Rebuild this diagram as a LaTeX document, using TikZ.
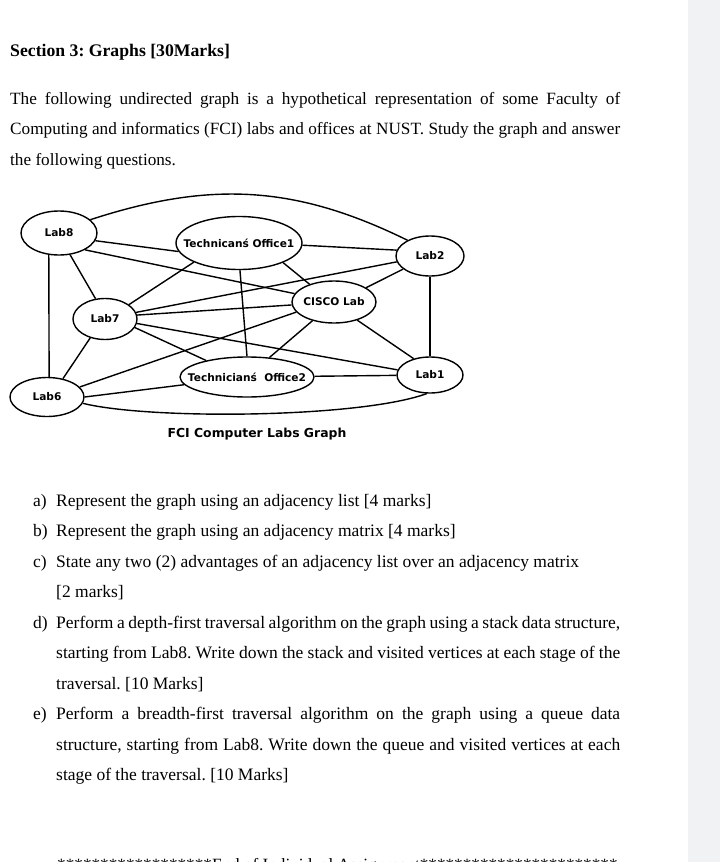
\documentclass[tikz,border=0pt]{standalone}
\usepackage{fontspec}
\setmainfont{Liberation Serif}
\newfontfamily\labfont{DejaVu Sans}
\usepackage{xcolor}
\usetikzlibrary{shapes.geometric,positioning}
\definecolor{panel}{RGB}{241,242,244}
% zero-width label so the ellipse keeps its given size
\newcommand{\rlabel}[1]{\hbox to 0pt{\hss#1\hss}}
% justified text line of a given width
\newcommand{\jline}[2]{\hbox to #1pt{#2}}
\frenchspacing

\begin{document}
\begin{tikzpicture}[x=1pt, y=-1pt,
    room/.style={ellipse, draw=black, line width=1.4pt, inner sep=0pt, font=\labfont\bfseries\fontsize{10.6}{12}\selectfont},
    link/.style={line width=1.4pt},
    txt/.style={anchor=base west, inner sep=0pt, font=\fontsize{17.2}{20}\selectfont},
    item/.style={txt, font=\fontsize{17.5}{20}\selectfont}
]
\useasboundingbox (0,0) rectangle (720,862);
\fill[panel] (688,0) rectangle (720,862);

% heading and introduction
\node[txt, font=\fontsize{17.7}{20}\selectfont\bfseries] (head) at (10,56.5) {Section 3: Graphs [30Marks]};
\node[txt] (intro1) at (10,104) {\jline{610}{The following undirected graph is a hypothetical representation of some Faculty of}};
\node[txt] (intro2) at (10,134.5) {\jline{610}{Computing and informatics (FCI) labs and offices at NUST. Study the graph and answer}};
\node[txt] (intro3) at (10,165) {the following questions.};

% graph vertices
\node[room, minimum width=76, minimum height=44] (lab8) at (59,233) {\rlabel{Lab8}};
\node[room, minimum width=126, minimum height=53] (off1) at (239,243) {\rlabel{Technicanś Office1}};
\node[room, minimum width=68, minimum height=40] (lab2) at (430,256) {\rlabel{Lab2}};
\node[room, minimum width=84, minimum height=42] (cisco) at (334,302) {\rlabel{CISCO Lab}};
\node[room, minimum width=64, minimum height=41] (lab7) at (105,319) {\rlabel{Lab7}};
\node[room, minimum width=134, minimum height=40] (off2) at (247,377) {\rlabel{Technicianś\ \ Office2}};
\node[room, minimum width=66, minimum height=36] (lab1) at (430,375) {\rlabel{Lab1}};
\node[room, minimum width=74, minimum height=39] (lab6) at (47,397) {\rlabel{Lab6}};

% graph edges
\draw[link] (lab8.23) .. controls (212,180) and (297,186) .. (lab2.145);
\draw[link] (lab8.-12) -- (off1.188);
\draw[link] (lab8.-33) -- (cisco.168);
\draw[link] (lab8.-63) -- (lab7.115);
\draw[link] (lab8.245) -- (lab6.84);
\draw[link] (off1.-2) -- (lab2.170);
\draw[link] (off1.203) -- (lab7.31);
\draw[link] (off1.-88) -- (off2.90);
\draw[link] (off1.-24) -- (cisco.144);
\draw[link] (lab2.190) -- (lab7.12);
\draw[link] (lab2.206) -- (cisco.24);
\draw[link] (lab2) -- (lab1);
\draw[link] (lab7.7) -- (cisco.184);
\draw[link] (lab7.-8) -- (lab1.171);
\draw[link] (lab7.-16) -- (off2.158);
\draw[link] (lab7.232) -- (lab6.49);
\draw[link] (cisco.195) -- (lab6.17);
\draw[link] (cisco.221) -- (off2.41);
\draw[link] (cisco.-38) -- (lab1.135);
\draw[link] (off2) -- (lab1);
\draw[link] (off2.187) -- (lab6.0);
\draw[link] (lab6.-10) .. controls (150,420) and (360,418) .. (lab1.260);

\node[anchor=base, inner sep=0pt, font=\labfont\bfseries\fontsize{12.4}{14}\selectfont] (caption) at (257,437) {FCI Computer Labs Graph};

% questions
\node[item] (qa) at (33,506) {a)};
\node[item] (qatext) at (56,506) {Represent the graph using an adjacency list [4 marks]};
\node[item] (qb) at (33,536.5) {b)};
\node[item] (qbtext) at (56,536.5) {Represent the graph using an adjacency matrix [4 marks]};
\node[item] (qc) at (33,567) {c)};
\node[item] (qctext) at (56,567) {State any two (2) advantages of an adjacency list over an adjacency matrix};
\node[item] (qctext2) at (56,597.5) {[2 marks]};
\node[item] (qd) at (33,628) {d)};
\node[item] (qdtext) at (56,628) {\jline{564}{Perform a depth-first traversal algorithm on the graph using a stack data structure,}};
\node[item] (qdtext2) at (56,658.5) {\jline{564}{starting from Lab8. Write down the stack and visited vertices at each stage of the}};
\node[item] (qdtext3) at (56,689) {traversal. [10 Marks]};
\node[item] (qe) at (33,719.5) {e)};
\node[item] (qetext) at (56,719.5) {\jline{564}{Perform a breadth-first traversal algorithm on the graph using a queue data}};
\node[item] (qetext2) at (56,750) {\jline{564}{structure, starting from Lab8. Write down the queue and visited vertices at each}};
\node[item] (qetext3) at (56,780.5) {stage of the traversal. [10 Marks]};

% footer line, cut by the page edge
\begin{scope}
\clip (0,0) rectangle (688,862);
\node[txt] (footer) at (57,870) {******************End of Individual Assignment***********************};
\end{scope}

\end{tikzpicture}
\end{document}
